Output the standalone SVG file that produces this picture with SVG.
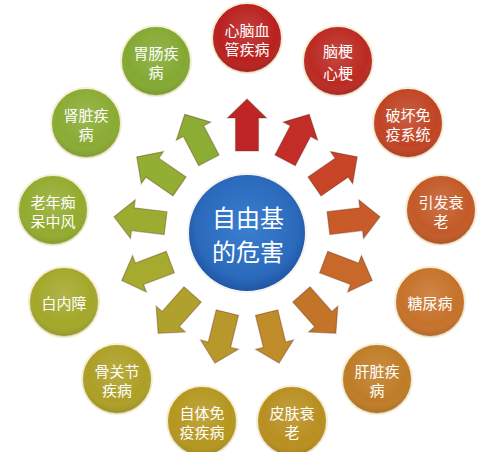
<svg xmlns="http://www.w3.org/2000/svg" width="500" height="452" viewBox="0 0 500 452">
<defs>
<radialGradient id="shade" cx="50%" cy="40%" r="60%">
<stop offset="0%" stop-color="#ffffff" stop-opacity="0.14"/>
<stop offset="70%" stop-color="#ffffff" stop-opacity="0"/>
<stop offset="100%" stop-color="#000000" stop-opacity="0.12"/>
</radialGradient>
<radialGradient id="blue" cx="50%" cy="45%" r="55%">
<stop offset="0%" stop-color="#3a7fd0"/>
<stop offset="80%" stop-color="#2b69bb"/>
<stop offset="100%" stop-color="#1f56a3"/>
</radialGradient>
<polygon id="arr" points="-11.5,-82 -11.5,-115 -19.5,-115 0,-134 19.5,-115 11.5,-115 11.5,-82"/>
</defs>
<style>
.node circle.b{stroke:#f6efd6;stroke-width:2}
.node circle.o{fill:url(#shade)}
.node text{font-family:"Noto Sans CJK SC","Noto Sans",sans-serif;font-size:15px;fill:#ffffff;text-anchor:middle;dominant-baseline:central}
.center text{font-family:"Noto Sans CJK SC","Noto Sans",sans-serif;font-size:24px;fill:#ffffff;text-anchor:middle;dominant-baseline:central}
#connectors use{stroke-width:1.2;stroke-opacity:0.35;stroke:#5a2a10}
</style>
<rect width="500" height="452" fill="#ffffff"/>
<g id="connectors">
<use href="#arr" transform="translate(247 233) rotate(0)" fill="#bf2527"/>
<use href="#arr" transform="translate(247 233) rotate(27.69)" fill="#c22e27"/>
<use href="#arr" transform="translate(247 233) rotate(55.38)" fill="#c84427"/>
<use href="#arr" transform="translate(247 233) rotate(83.08)" fill="#c95a29"/>
<use href="#arr" transform="translate(247 233) rotate(110.77)" fill="#c9682b"/>
<use href="#arr" transform="translate(247 233) rotate(138.46)" fill="#c47428"/>
<use href="#arr" transform="translate(247 233) rotate(166.15)" fill="#c08c2a"/>
<use href="#arr" transform="translate(247 233) rotate(193.85)" fill="#b8982a"/>
<use href="#arr" transform="translate(247 233) rotate(221.54)" fill="#b0a12c"/>
<use href="#arr" transform="translate(247 233) rotate(249.23)" fill="#a6aa2e"/>
<use href="#arr" transform="translate(247 233) rotate(276.92)" fill="#9bad30"/>
<use href="#arr" transform="translate(247 233) rotate(304.62)" fill="#92ae33"/>
<use href="#arr" transform="translate(247 233) rotate(332.31)" fill="#8cad34"/>
</g>
<g id="center" class="center">
<circle cx="247" cy="233" r="60" fill="#f4f4f4"/>
<circle cx="247" cy="233" r="58" fill="url(#blue)"/>
<text x="248" y="216">自由基</text>
<text x="248" y="250">的危害</text>
</g>
<g id="n0" class="node"><circle class="b" cx="247" cy="38" r="35" fill="#b9211f"/><circle class="o" cx="247" cy="38" r="35"/><text x="247" y="29">心脑血</text><text x="247" y="48">管疾病</text></g>
<g id="n1" class="node"><circle class="b" cx="338" cy="61" r="35" fill="#bb2a22"/><circle class="o" cx="338" cy="61" r="35"/><text x="338" y="50">脑梗</text><text x="338" y="72">心梗</text></g>
<g id="n2" class="node"><circle class="b" cx="408" cy="123" r="35" fill="#c04424"/><circle class="o" cx="408" cy="123" r="35"/><text x="408" y="114">破坏免</text><text x="408" y="133">疫系统</text></g>
<g id="n3" class="node"><circle class="b" cx="441" cy="210" r="35" fill="#c35a27"/><circle class="o" cx="441" cy="210" r="35"/><text x="441" y="201">引发衰</text><text x="441" y="220">老</text></g>
<g id="n4" class="node"><circle class="b" cx="430" cy="302" r="35" fill="#c6722a"/><circle class="o" cx="430" cy="302" r="35"/><text x="430" y="302">糖尿病</text></g>
<g id="n5" class="node"><circle class="b" cx="377" cy="379" r="35" fill="#bf7c26"/><circle class="o" cx="377" cy="379" r="35"/><text x="377" y="370">肝脏疾</text><text x="377" y="389">病</text></g>
<g id="n6" class="node"><circle class="b" cx="292" cy="421" r="35" fill="#b98f20"/><circle class="o" cx="292" cy="421" r="35"/><text x="292" y="412">皮肤衰</text><text x="292" y="431">老</text></g>
<g id="n7" class="node"><circle class="b" cx="202" cy="421" r="35" fill="#b5971f"/><circle class="o" cx="202" cy="421" r="35"/><text x="202" y="412">自体免</text><text x="202" y="431">疫疾病</text></g>
<g id="n8" class="node"><circle class="b" cx="117" cy="379" r="35" fill="#ad9f25"/><circle class="o" cx="117" cy="379" r="35"/><text x="117" y="370">骨关节</text><text x="117" y="389">疾病</text></g>
<g id="n9" class="node"><circle class="b" cx="64" cy="302" r="35" fill="#a3a82a"/><circle class="o" cx="64" cy="302" r="35"/><text x="64" y="302">白内障</text></g>
<g id="n10" class="node"><circle class="b" cx="53" cy="210" r="35" fill="#93ab2f"/><circle class="o" cx="53" cy="210" r="35"/><text x="53" y="201">老年痴</text><text x="53" y="220">呆中风</text></g>
<g id="n11" class="node"><circle class="b" cx="86" cy="123" r="35" fill="#8aab33"/><circle class="o" cx="86" cy="123" r="35"/><text x="86" y="114">肾脏疾</text><text x="86" y="133">病</text></g>
<g id="n12" class="node"><circle class="b" cx="156" cy="61" r="35" fill="#84a932"/><circle class="o" cx="156" cy="61" r="35"/><text x="156" y="52">胃肠疾</text><text x="156" y="71">病</text></g>
</svg>
